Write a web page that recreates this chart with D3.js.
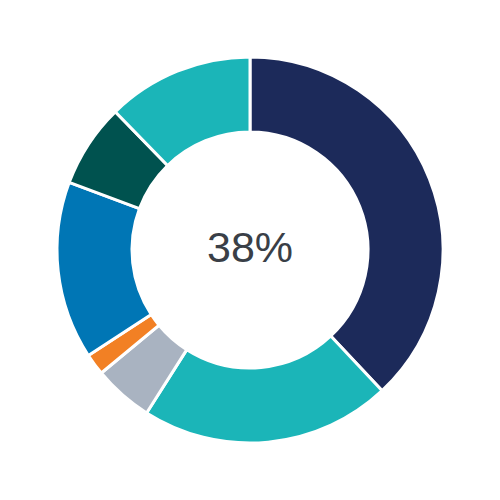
<!DOCTYPE html>
<html>
<head>
<meta charset="utf-8">
<script src="https://cdn.jsdelivr.net/npm/d3@7"></script>
<style>
  html, body { margin: 0; padding: 0; background: #fff; }
  #chart { width: 500px; height: 500px; }
</style>
</head>
<body>
<div id="chart"></div>
<script>
const categories = ['A', 'B', 'C', 'D', 'E', 'F', 'G']
const values = [38, 21, 5, 1.8, 14.9, 7, 12.3]
const colors = ['#1c2a5a', '#1bb5b8', '#a9b3c1', '#f28024', '#0076b5', '#00524f', '#1bb5b8']
const centerLabel = '38%'

const width = 500
const height = 500
const outerR = 193
const innerR = 118

const svg = d3.select('#chart')
  .append('svg')
  .attr('width', width)
  .attr('height', height)

const g = svg.append('g').attr('transform', `translate(${width / 2},${height / 2})`)

const pie = d3.pie().sort(null).value(d => d.value)
const arc = d3.arc().innerRadius(innerR).outerRadius(outerR)

const data = categories.map((c, i) => ({ cat: c, value: values[i], color: colors[i] }))

g.selectAll('path')
  .data(pie(data))
  .join('path')
  .attr('d', arc)
  .attr('fill', d => d.data.color)
  .attr('stroke', '#fff')
  .attr('stroke-width', 3)

g.append('text')
  .attr('x', 0)
  .attr('y', 12)
  .attr('text-anchor', 'middle')
  .attr('fill', '#3a3f47')
  .attr('font-family', 'Liberation Sans, Arial, sans-serif')
  .attr('font-size', '43px')
  .text(centerLabel)
</script>
</body>
</html>
